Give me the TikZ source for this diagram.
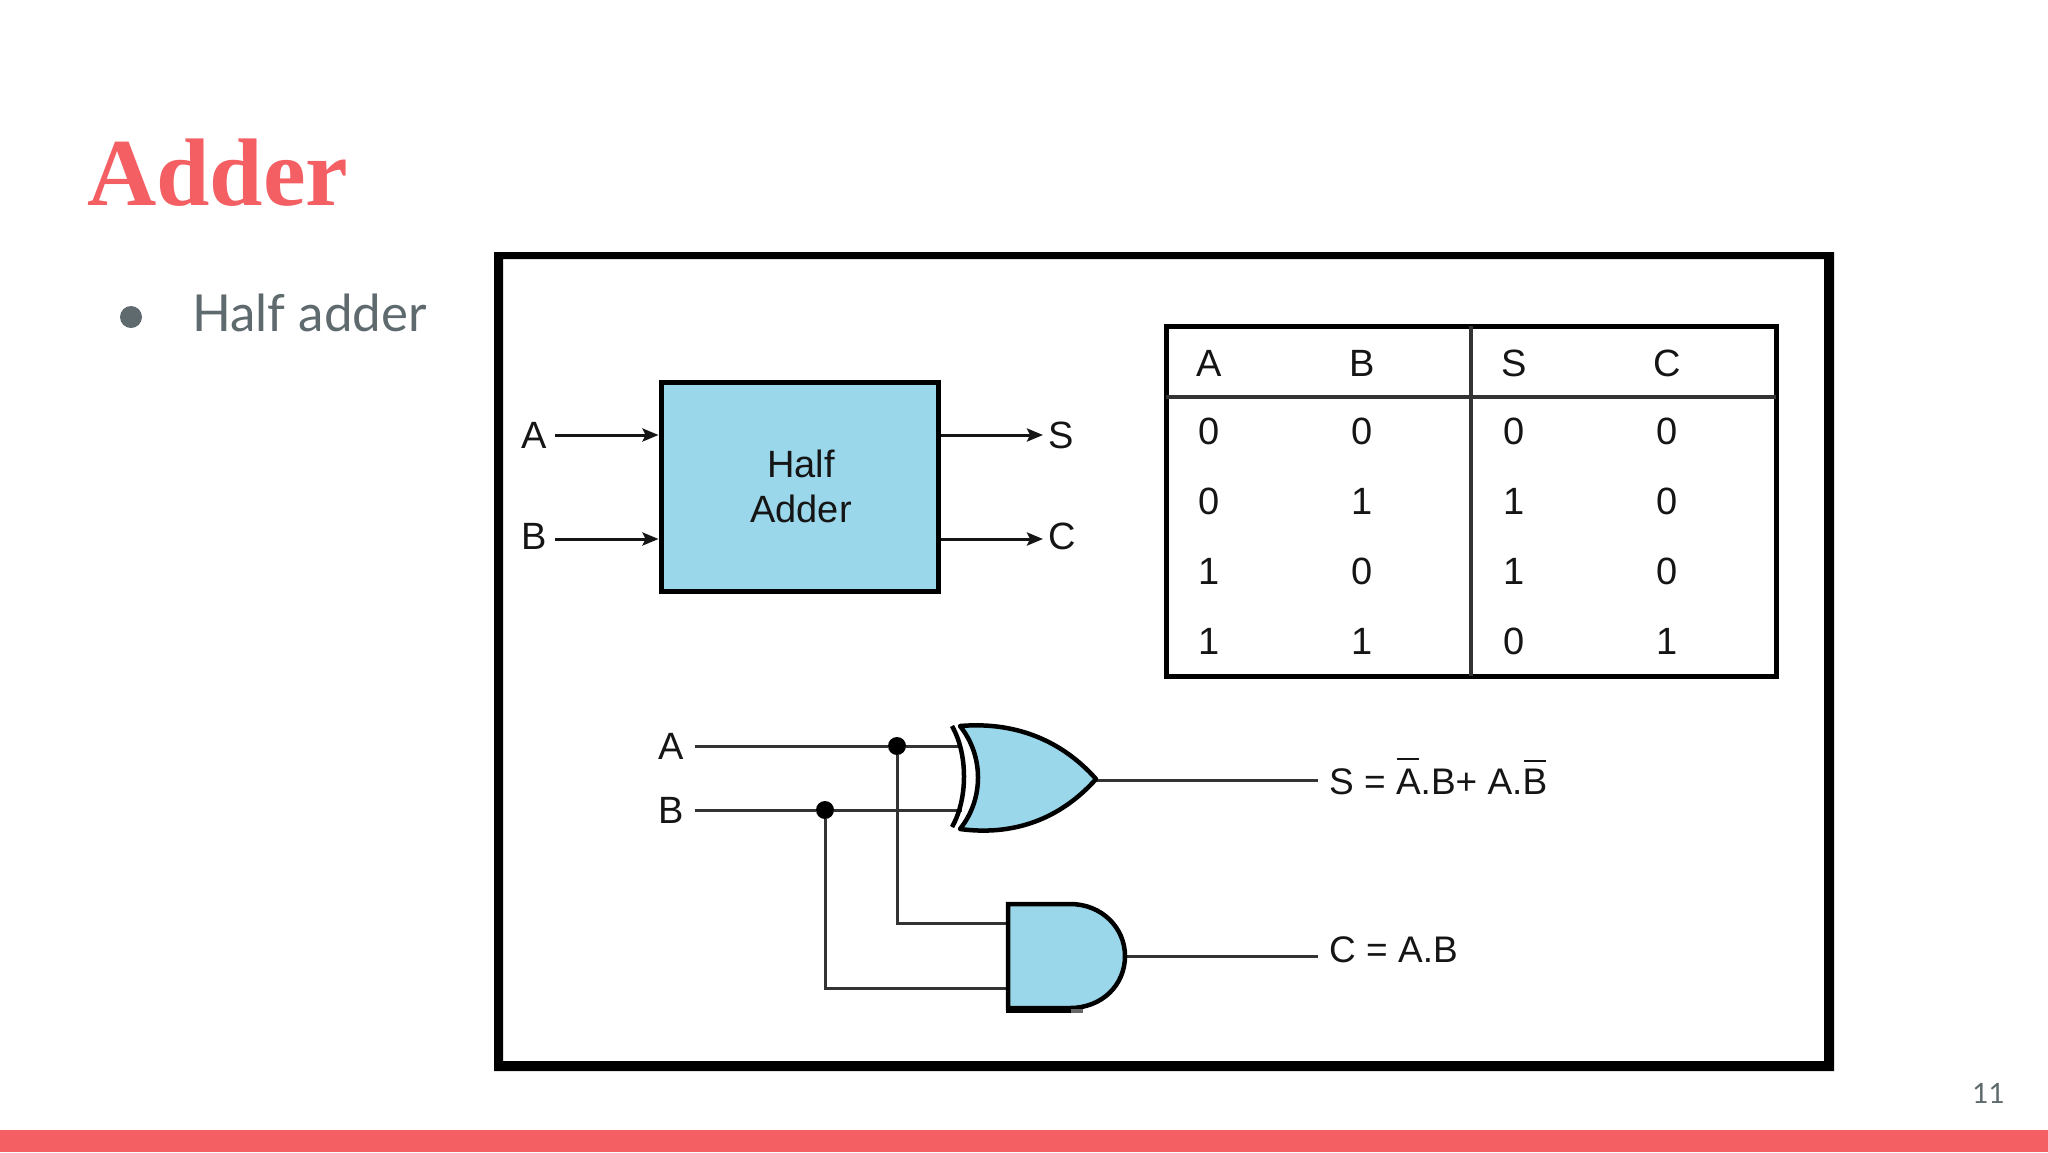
\documentclass[tikz,border=0pt]{standalone}
\usepackage{fontspec}
\usetikzlibrary{arrows.meta}
\setmainfont{Liberation Sans}
\newfontfamily\latofont{Lato}
\newfontfamily\titlefont{Liberation Serif}
\definecolor{accent}{HTML}{F45F63}
\definecolor{slate}{HTML}{5F6A6E}
\definecolor{gatefill}{HTML}{9AD7EA}
\definecolor{ink}{HTML}{151515}
\definecolor{wire}{HTML}{333333}
\newcommand{\ovl}[2]{\rlap{\kern1pt\raisebox{#1}{\rule{22pt}{2.5pt}}}#2}
\tikzset{
  lab/.style={inner sep=0pt,anchor=base,text=ink,font=\fontsize{38}{45}\selectfont},
  eqn/.style={inner sep=0pt,anchor=base west,text=ink,font=\fontsize{37}{45}\selectfont},
  wireline/.style={draw=wire,line width=3pt},
  arrowline/.style={draw=ink,line width=3pt,-{Stealth[length=16pt,width=13pt,inset=3pt]}},
  gate/.style={draw=black,fill=gatefill,line width=4.5pt,line join=round},
  junction/.style={circle,fill=black,inner sep=0pt,minimum size=18pt},
  cell/.style={inner sep=0pt,anchor=base,text=ink,font=\fontsize{38}{45}\selectfont},
  rule/.style={draw=wire,line width=3.5pt}
}
\begin{document}
\begin{tikzpicture}[x=1pt,y=-1pt]
\useasboundingbox (0,0) rectangle (2048,1152);
\fill[white] (0,0) rectangle (2048,1152);
% slide
\fill[accent] (0,1130) rectangle (2048,1152);
\node[inner sep=0pt,anchor=base west,text=accent,font=\titlefont\bfseries\fontsize{96}{110}\selectfont] (title) at (87,205) {Adder};
\node[circle,fill=slate,inner sep=0pt,minimum size=22pt] (bullet) at (131,317) {};
\node[inner sep=0pt,anchor=base west,text=slate,font=\latofont\fontsize{51}{60}\selectfont] (item) at (192,331) {Half adder};
\node[inner sep=0pt,anchor=base,text=slate,font=\latofont\fontsize{28}{34}\selectfont] (pageno) at (1988.5,1103) {11};
% frame
\fill[black,even odd rule] (494,252) rectangle (1834,1071) (503,259) rectangle (1824,1061);
% half adder block
\node[draw=black,fill=gatefill,line width=5pt,inner sep=0pt,minimum width=277pt,minimum height=209pt] (ha) at (799.5,487) {};
\node[inner sep=0pt,align=center,text=ink,font=\fontsize{38}{45}\selectfont] (halabel) at (801,486) {Half\\Adder};
\node[lab] (la) at (534,448) {A};
\node[lab] (lb) at (534,549) {B};
\node[lab] (ls) at (1061,448) {S};
\node[lab] (lc) at (1062,549) {C};
\coordinate (ai) at (555,435);
\coordinate (bi) at (555,539);
\coordinate (so) at (1043,435);
\coordinate (co) at (1043,539);
\draw[arrowline] (ai) -- (ha.west |- ai);
\draw[arrowline] (bi) -- (ha.west |- bi);
\draw[arrowline] (ha.east |- so) -- (so);
\draw[arrowline] (ha.east |- co) -- (co);
% truth table
\node[draw=black,line width=5pt,inner sep=0pt,minimum width=610pt,minimum height=350pt] (tt) at (1471,501) {};
\coordinate (tvt) at (1471,326);
\coordinate (tvb) at (1471,676);
\coordinate (thl) at (1166,397);
\coordinate (thr) at (1776,397);
\draw[rule] (tvt) -- (tvb);
\draw[rule] (thl) -- (thr);
\foreach \r/\y/\p/\q/\s/\t in {0/376/A/B/S/C,1/444/0/0/0/0,2/514/0/1/1/0,3/584/1/0/1/0,4/654/1/1/0/1}{
  \node[cell] (c\r a) at (1209,\y) {\p};
  \node[cell] (c\r b) at (1362,\y) {\q};
  \node[cell] (c\r c) at (1514,\y) {\s};
  \node[cell] (c\r d) at (1667,\y) {\t};
}
% logic circuit
\node[lab] (ga) at (671,759) {A};
\node[lab] (gb) at (671,823) {B};
\coordinate (ws) at (695,746);
\coordinate (wt) at (695,810);
\coordinate (xa) at (962,746);
\coordinate (xb) at (962,810);
\node[junction] (da) at (897,746) {};
\node[junction] (db) at (825,810) {};
\coordinate (aa) at (1008,923);
\coordinate (ab) at (1008,988);
\coordinate (xo) at (1096,780);
\coordinate (ao) at (1124,956);
\node[eqn] (eqs) at (1329,794) {S = \ovl{34pt}{A}.B+ A.\ovl{32pt}{B}};
\node[eqn] (eqc) at (1329,962) {C = A.B};
\coordinate (es) at (1318,780);
\coordinate (ec) at (1318,956);
\draw[wireline] (ws) -- (da) -- (xa);
\draw[wireline] (wt) -- (db) -- (xb);
\draw[wireline] (da) -- (da |- aa) -- (aa);
\draw[wireline] (db) -- (db |- ab) -- (ab);
\draw[wireline] (xo) -- (es);
\draw[wireline] (ao) -- (ec);
% xor gate
\draw[draw=black,line width=4.5pt] (952,726) .. controls (968,754) and (968,799) .. (952,827);
\draw[gate] (960,726) .. controls (1020,721) and (1065,744) .. (1096,779)
  .. controls (1065,814) and (1020,837) .. (960,829)
  .. controls (984,799) and (984,756) .. (960,726) -- cycle;
% and gate
\draw[gate,line join=miter] (1008,904) -- (1070,904) .. controls (1102,904) and (1125,928) .. (1125,956)
  .. controls (1125,985) and (1102,1008) .. (1070,1008) -- (1008,1008) -- cycle;
\fill[black] (1006,1006) rectangle (1071,1013);
\fill[black!60] (1071,1009) rectangle (1083,1013);
\end{tikzpicture}
\end{document}
